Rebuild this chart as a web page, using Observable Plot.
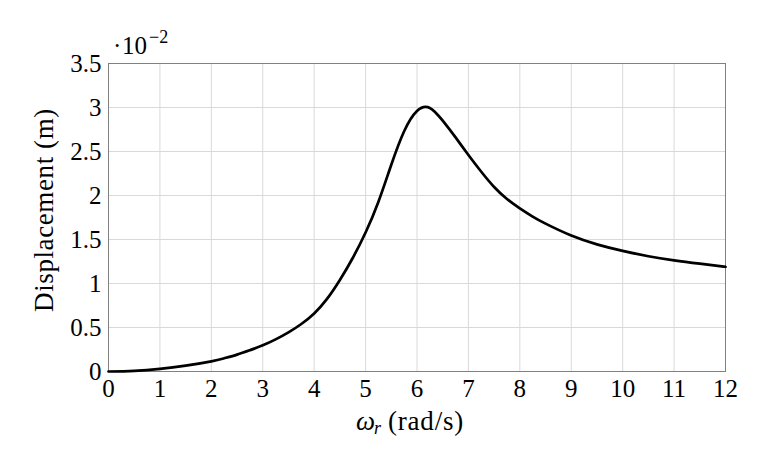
<!DOCTYPE html>
<html>
<head>
<meta charset="utf-8">
<script src="https://cdn.jsdelivr.net/npm/d3@7"></script>
<script src="https://cdn.jsdelivr.net/npm/@observablehq/plot@0.6"></script>
<style>
  html, body { margin: 0; padding: 0; background: white; }
  #chart { width: 778px; height: 468px; }
</style>
</head>
<body>
<div id="chart"></div>
<script>
// angular frequency ω_r (rad/s)
const omega = [0, 0.5, 1, 1.5, 2, 2.25, 2.5, 2.75, 3, 3.25, 3.5, 3.75, 4, 4.25, 4.5, 4.75, 5, 5.25, 5.5, 5.75, 6, 6.25, 6.5, 6.75, 7, 7.25, 7.5, 7.75, 8, 8.25, 8.5, 9, 9.5, 10, 10.5, 11, 11.5, 12];
// displacement in units of 1e-2 m
const displacement = [0, 0.008, 0.03, 0.066, 0.115, 0.15, 0.192, 0.242, 0.297, 0.365, 0.445, 0.54, 0.66, 0.825, 1.04, 1.29, 1.58, 1.93, 2.35, 2.73, 2.96, 2.995, 2.85, 2.66, 2.46, 2.27, 2.097, 1.96, 1.853, 1.76, 1.68, 1.545, 1.445, 1.37, 1.31, 1.263, 1.225, 1.19];
const xTicks = [0, 1, 2, 3, 4, 5, 6, 7, 8, 9, 10, 11, 12];
const yTicks = [0, 0.5, 1, 1.5, 2, 2.5, 3, 3.5];
const xLabelSymbol = "ω";
const xLabelSub = "r";
const xLabelRest = "(rad/s)";
const yLabel = "Displacement (m)";
const scaleDot = "·";
const scaleBase = "10";
const scaleExp = "−2";

const data = omega.map((w, i) => ({w, d: displacement[i]}));
const FONT = "'Liberation Serif', 'DejaVu Serif', serif";

const chart = Plot.plot({
  width: 778,
  height: 468,
  marginLeft: 108,
  marginRight: 53,
  marginTop: 63,
  marginBottom: 97,
  style: {fontFamily: FONT, fontSize: "25px", background: "white", color: "black"},
  x: {domain: [0, 12]},
  y: {domain: [0, 3.5]},
  marks: [
    Plot.gridX(xTicks, {stroke: "#d9d9d9", strokeOpacity: 1, strokeWidth: 1}),
    Plot.gridY(yTicks, {stroke: "#d9d9d9", strokeOpacity: 1, strokeWidth: 1}),
    Plot.axisX(xTicks, {tickSize: 0, tickPadding: 8, label: null, fontSize: 25, tickFormat: d => String(d)}),
    Plot.axisY(yTicks, {tickSize: 0, tickPadding: 7, label: null, fontSize: 25, tickFormat: d => String(+d.toFixed(1))}),
    Plot.frame({stroke: "#808080", strokeWidth: 1}),
    Plot.line(data, {x: "w", y: "d", curve: "natural", stroke: "black", strokeWidth: 2.7})
  ]
});

const svg = d3.select(chart);

// x label: ω_r (rad/s)
const xl = svg.append("text")
  .attr("y", 430)
  .attr("text-anchor", "start")
  .attr("font-family", FONT).attr("font-size", 27).attr("fill", "black");
xl.append("tspan").attr("x", 356).attr("font-style", "italic").text(xLabelSymbol);
xl.append("tspan").attr("x", 374).attr("font-style", "italic").attr("font-size", 18).attr("dy", 4).text(xLabelSub);
xl.append("tspan").attr("x", 388).attr("dy", -4).attr("letter-spacing", 0.8).text(xLabelRest);

// y label
svg.append("text")
  .attr("transform", `translate(53,210) rotate(-90)`)
  .attr("text-anchor", "middle")
  .attr("font-family", FONT).attr("font-size", 27).attr("letter-spacing", 0.6).attr("fill", "black")
  .text(yLabel);

// scale factor ·10^-2
const sf = svg.append("text")
  .attr("y", 54)
  .attr("text-anchor", "start")
  .attr("font-family", FONT).attr("font-size", 25).attr("fill", "black");
sf.append("tspan").attr("x", 113).text(scaleDot);
sf.append("tspan").attr("x", 122).text(scaleBase);
sf.append("tspan").attr("x", 149).attr("y", 43).attr("font-size", 18).text(scaleExp);

document.getElementById("chart").appendChild(chart);
</script>
</body>
</html>
